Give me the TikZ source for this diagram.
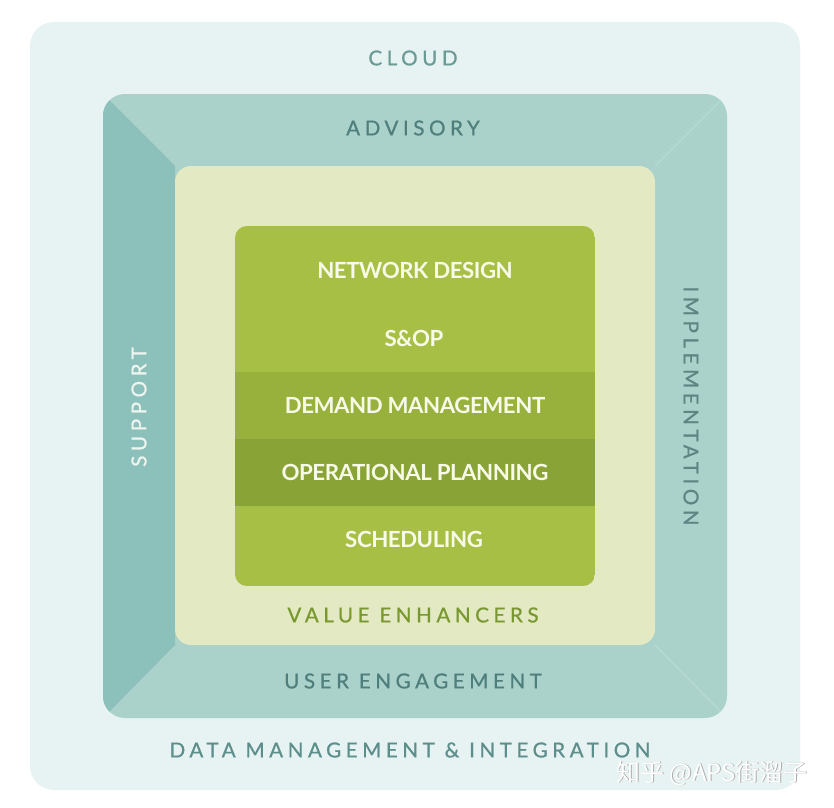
\documentclass[tikz,border=0pt]{standalone}
\usepackage{fontspec}
\setmainfont{Lato}
\newfontfamily\spaced[LetterSpace=22,FakeBold=0.7]{Lato}
\newfontfamily\inner[LetterSpace=-2]{Lato Bold}
\newfontfamily\cjk{Noto Sans CJK SC}
\definecolor{cloudbg}{HTML}{E7F3F3}
\definecolor{frame}{HTML}{ABD1CB}
\definecolor{frameleft}{HTML}{8CC0BA}
\definecolor{frameline}{HTML}{B8DAD5}
\definecolor{cream}{HTML}{E2E9C3}
\definecolor{green1}{HTML}{A8BF45}
\definecolor{green2}{HTML}{98B13D}
\definecolor{green3}{HTML}{89A337}
\definecolor{tcloud}{HTML}{6A9A96}
\definecolor{tdata}{HTML}{5C8E8B}
\definecolor{tadv}{HTML}{4F7F7C}
\definecolor{tsupport}{HTML}{EEF5F0}
\definecolor{timpl}{HTML}{5E8583}
\definecolor{tvalue}{HTML}{7A9830}
\definecolor{tinner}{HTML}{F8FAE8}
\begin{document}
\begin{tikzpicture}[x=1bp,y=-1bp,
  outlabel/.style={font=\spaced\fontsize{20.7}{24}\selectfont, inner sep=0pt, anchor=center},
  innerlabel/.style={font=\inner\fontsize{22.3}{26}\selectfont, text=tinner, inner sep=0pt, anchor=center}]
\useasboundingbox (0,0) rectangle (834,808);
\fill[white] (0,0) rectangle (834,808);
% cloud
\fill[cloudbg, rounded corners=24] (30,22) rectangle (800,790);
% frame
\fill[frame, rounded corners=22] (103,94) rectangle (727,718);
\begin{scope}
  \clip[rounded corners=22] (103,94) rectangle (727,718);
  \fill[frameleft] (103,94) -- (175,166) -- (175,645) -- (103,718) -- cycle;
  \draw[frameline, line width=1.2] (727,94) -- (655,166);
  \draw[frameline, line width=1.2] (727,718) -- (655,645);
\end{scope}
% cream
\fill[cream, rounded corners=16] (175,166) rectangle (655,645);
% green stack
\begin{scope}
  \clip[rounded corners=12] (235,226) rectangle (595,586);
  \fill[green1] (235,226) rectangle (595,586);
  \fill[green2] (235,372) rectangle (595,439);
  \fill[green3] (235,439) rectangle (595,506);
\end{scope}
% labels
\node[outlabel, text=tcloud] (cloud) at (413,58) {CLOUD};
\node[outlabel, text=tadv] (adv) at (413,128) {ADVISORY};
\node[outlabel, text=tsupport, rotate=90] (sup) at (139,407) {SUPPORT};
\node[outlabel, text=timpl, rotate=-90] (impl) at (691,406) {IMPLEMENTATION};
\node[outlabel, text=tvalue] (val) at (413,615) {VALUE ENHANCERS};
\node[outlabel, text=tadv] (user) at (413,681) {USER ENGAGEMENT};
\node[outlabel, text=tdata] (data) at (410,750) {DATA MANAGEMENT \& INTEGRATION};
\node[innerlabel] (nd) at (415,270) {NETWORK DESIGN};
\node[innerlabel] (sop) at (414,338) {S\&OP};
\node[innerlabel] (dm) at (415,405) {DEMAND MANAGEMENT};
\node[innerlabel] (op) at (415,472) {OPERATIONAL PLANNING};
\node[innerlabel] (sch) at (414,539) {SCHEDULING};
% watermark
\node[font=\cjk\fontsize{24}{28}\selectfont, text=gray!65, inner sep=0pt] at (712.9,773.9) {知乎 @APS街溜子};
\node[font=\cjk\fontsize{24}{28}\selectfont, text=white, inner sep=0pt] (wm) at (712,773) {知乎 @APS街溜子};
\end{tikzpicture}
\end{document}
